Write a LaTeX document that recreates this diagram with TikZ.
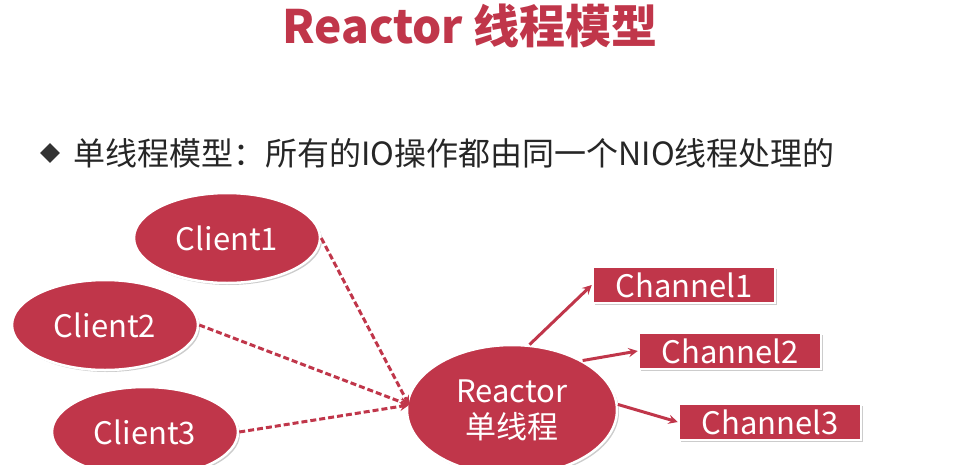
\documentclass[tikz,border=0pt]{standalone}
\usepackage{fontspec}
\setmainfont{Noto Sans CJK SC}
\usetikzlibrary{shapes.geometric,shadows}
\definecolor{crim}{HTML}{C0364A}
\tikzset{
  client/.style={ellipse, draw=white, line width=2.5pt, fill=crim, text=white,
    minimum width=186pt, minimum height=90pt, inner sep=0pt, font=\fontsize{31}{34}\selectfont,
    drop shadow={shadow xshift=2pt, shadow yshift=-2pt, opacity=.4}},
  chan/.style={rectangle, draw=white, line width=2.5pt, fill=crim, text=white,
    minimum width=182pt, minimum height=36pt, inner sep=0pt, font=\fontsize{31}{34}\selectfont,
    drop shadow={shadow xshift=2pt, shadow yshift=-2pt, opacity=.4}},
  dashlink/.style={-stealth, crim, line width=3pt, dash pattern=on 6pt off 3pt},
  solidlink/.style={-stealth, crim, line width=3pt}
}
\begin{document}
\begin{tikzpicture}[x=1pt, y=-1pt]
\useasboundingbox (0,0) rectangle (962,464);
% Titel
\node[font=\bfseries\fontsize{46}{50}\selectfont, text=crim] (title) at (470,26) {Reactor 线程模型};
% Aufzaehlung
\node[diamond, fill=black!80, inner sep=0pt, minimum size=20pt] (dia) at (50,153) {};
\node[anchor=west, font=\fontsize{32}{35}\selectfont, text=black!85] (txt) at (70,153) {单线程模型：所有的IO操作都由同一个NIO线程处理的};
% Clients
\node[client] (c1) at (227,238) {Client1};
\node[client] (c2) at (105,325) {Client2};
\node[client] (c3) at (145,432) {Client3};
% Reactor
\node[client, minimum width=210pt, minimum height=130pt, align=center] (r) at (512,410) {Reactor\\[2pt]单线程};
% Channels
\node[chan] (ch1) at (684,285) {Channel1};
\node[chan] (ch2) at (730,351) {Channel2};
\node[chan] (ch3) at (770,422) {Channel3};
% Pfeile
\coordinate (in) at (409,405);
\draw[dashlink] (c1.east) -- (in);
\draw[dashlink] (c2.east) -- (in);
\draw[dashlink] (c3.east) -- (in);
\draw[solidlink] (r.75) -- (ch1.west);
\draw[solidlink] (r.35) -- (ch2.west);
\draw[solidlink] (r.3) -- (ch3.west);
\end{tikzpicture}
\end{document}
